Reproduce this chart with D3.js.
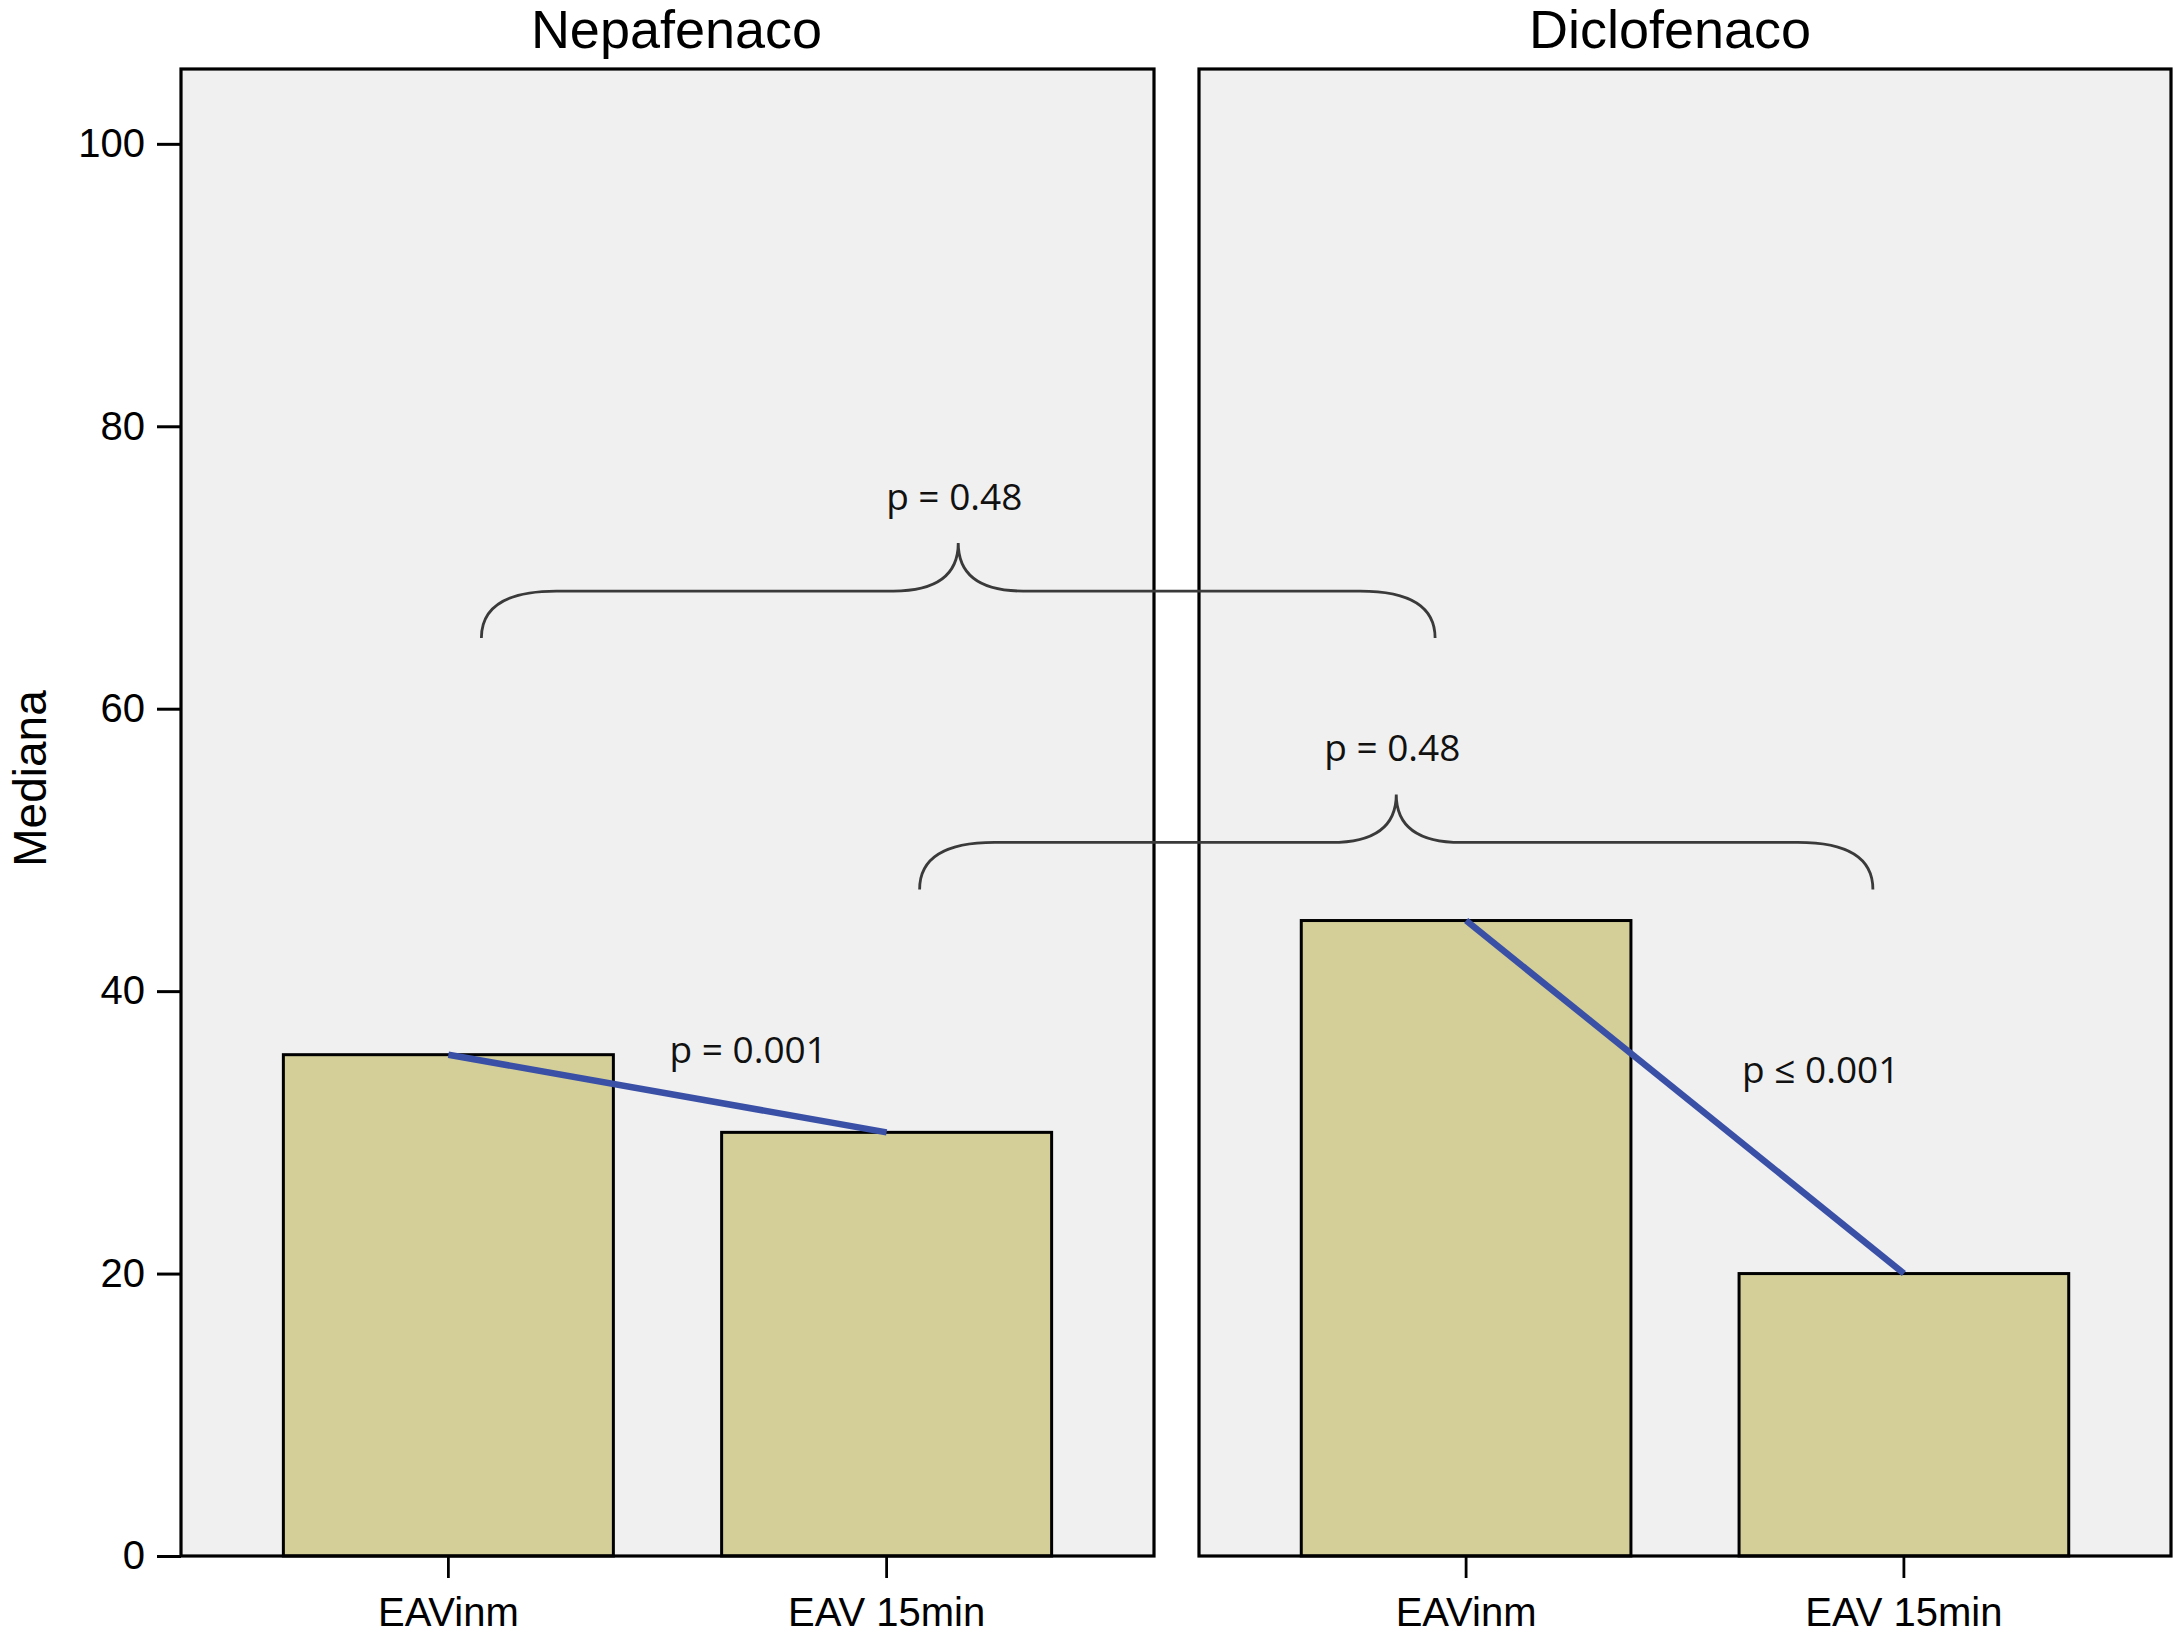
<!DOCTYPE html>
<html>
<head>
<meta charset="utf-8">
<script src="https://cdn.jsdelivr.net/npm/d3@7"></script>
<style>
  html, body { margin: 0; padding: 0; background: #fff; }
  svg { display: block; }
  .tick text { font-family: "Liberation Sans", Arial, Helvetica, sans-serif; }
</style>
</head>
<body>
<div id="chart"></div>
<script>
(function(){
  'use strict';

  // data
  var panels = ['Nepafenaco', 'Diclofenaco'];
  var categories = ['EAVinm', 'EAV 15min'];
  var nepafenaco = [35.5, 30];
  var diclofenaco = [45, 20];
  var yTicks = [0, 20, 40, 60, 80, 100];
  var slopeLabels = ['p = 0.001', 'p \u2264 0.001'];
  // braces between panels: [panel, category] -> [panel, category], level in chart units
  var braces = [
    {from: ['Nepafenaco', 'EAVinm'], to: ['Diclofenaco', 'EAVinm'], level: 65, label: 'p = 0.48'},
    {from: ['Nepafenaco', 'EAV 15min'], to: ['Diclofenaco', 'EAV 15min'], level: 47.2, label: 'p = 0.48'}
  ];

  var values = {Nepafenaco: nepafenaco, Diclofenaco: diclofenaco};

  var width = 2174,
      height = 1637,
      top = 69, bottom = 1556,
      panelX = {Nepafenaco: [181, 1154], Diclofenaco: [1199, 2171]},
      sans = '"Liberation Sans", Arial, Helvetica, sans-serif',
      myriad = '"Open Sans", "Noto Sans", sans-serif',
      // label offsets from slope line midpoint (px)
      slopeOffset = [[2, -31], [57, -14]],
      titleShift = [9, -15];

  var svg = d3.select('#chart').append('svg')
      .attr('width', width)
      .attr('height', height);

  var y = d3.scaleLinear().domain([0, 105.3]).range([bottom, top]);

  var x = {};
  panels.forEach(function(p){
    x[p] = d3.scaleBand()
      .domain(categories)
      .range(panelX[p])
      .paddingInner(0.247)
      .paddingOuter(0.2336);
  });
  function cx(p, c){ return x[p](c) + x[p].bandwidth() / 2; }

  // panels
  panels.forEach(function(p, pi){
    var g = svg.append('g').attr('class', 'panel');
    var r = panelX[p];

    g.append('rect')
      .attr('x', r[0]).attr('y', top)
      .attr('width', r[1] - r[0]).attr('height', bottom - top)
      .attr('fill', '#f0f0f0')
      .attr('stroke', 'none');

    g.selectAll('.bar')
      .data(values[p])
      .enter().append('rect')
      .attr('class', 'bar')
      .attr('x', function(d, i){ return x[p](categories[i]); })
      .attr('y', function(d){ return y(d); })
      .attr('width', x[p].bandwidth())
      .attr('height', function(d){ return y(0) - y(d); })
      .attr('fill', '#d4cf99')
      .attr('stroke', '#000')
      .attr('stroke-width', 3);

    // blue slope line between bar tops
    var line = d3.line()
      .x(function(d, i){ return cx(p, categories[i]); })
      .y(function(d){ return y(d); });
    g.append('path')
      .datum(values[p])
      .attr('d', line)
      .attr('fill', 'none')
      .attr('stroke', '#3a50a6')
      .attr('stroke-width', 6.5);

    var mx = (cx(p, categories[0]) + cx(p, categories[1])) / 2,
        my = (y(values[p][0]) + y(values[p][1])) / 2;
    g.append('text')
      .attr('x', mx + slopeOffset[pi][0])
      .attr('y', my + slopeOffset[pi][1])
      .attr('font-family', myriad)
      .attr('font-size', 37)
      .attr('fill', '#111')
      .text(slopeLabels[pi]);

    g.append('rect')
      .attr('x', r[0]).attr('y', top)
      .attr('width', r[1] - r[0]).attr('height', bottom - top)
      .attr('fill', 'none')
      .attr('stroke', '#000')
      .attr('stroke-width', 3.2);

    // panel title
    g.append('text')
      .attr('x', (r[0] + r[1]) / 2 + titleShift[pi])
      .attr('y', 48)
      .attr('text-anchor', 'middle')
      .attr('font-family', sans)
      .attr('font-size', 54)
      .attr('fill', '#000')
      .text(p);

    // bottom axis
    var xa = g.append('g')
      .attr('transform', 'translate(0,' + bottom + ')')
      .call(d3.axisBottom(x[p]).tickSize(22).tickPadding(20));
    xa.select('.domain').remove();
    xa.selectAll('.tick line').attr('stroke', '#000').attr('stroke-width', 2.8);
    xa.selectAll('.tick text').attr('font-size', 40).attr('fill', '#000');
  });

  // y axis on left panel
  var ya = svg.append('g')
    .attr('transform', 'translate(' + panelX.Nepafenaco[0] + ',0)')
    .call(d3.axisLeft(y).tickValues(yTicks).tickSize(24).tickPadding(12));
  ya.select('.domain').remove();
  ya.selectAll('.tick line').attr('stroke', '#000').attr('stroke-width', 3);
  ya.selectAll('.tick text').attr('font-size', 40).attr('fill', '#000');

  svg.append('text')
    .attr('transform', 'translate(46,' + ((top + bottom) / 2 - 34) + ') rotate(-90)')
    .attr('text-anchor', 'middle')
    .attr('font-family', sans)
    .attr('font-size', 46)
    .attr('fill', '#000')
    .text('Mediana');

  // curly braces
  var endR = 75, cusp = 65, rise = 47, peak = 48;
  braces.forEach(function(b){
    var xl = cx(b.from[0], b.from[1]) + 33,
        xr = cx(b.to[0], b.to[1]) - 31,
        xc = (xl + xr) / 2,
        ye = y(b.level),
        ym = ye - rise,
        yp = ym - peak;
    var path = d3.path();
    path.moveTo(xl, ye);
    path.quadraticCurveTo(xl, ym, xl + endR, ym);
    path.lineTo(xc - cusp, ym);
    path.quadraticCurveTo(xc, ym, xc, yp);
    path.quadraticCurveTo(xc, ym, xc + cusp, ym);
    path.lineTo(xr - endR, ym);
    path.quadraticCurveTo(xr, ym, xr, ye);

    svg.append('path')
      .attr('d', path.toString())
      .attr('fill', 'none')
      .attr('stroke', '#3a3a3a')
      .attr('stroke-width', 2.8);

    svg.append('text')
      .attr('x', xc - 4)
      .attr('y', yp - 33)
      .attr('text-anchor', 'middle')
      .attr('font-family', myriad)
      .attr('font-size', 37)
      .attr('fill', '#111')
      .text(b.label);
  });
})();
</script>
</body>
</html>
